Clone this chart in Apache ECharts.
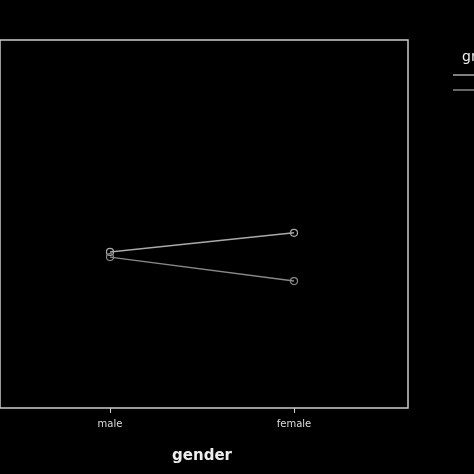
<!DOCTYPE html>
<html><head><meta charset="utf-8">
<script src="https://cdn.jsdelivr.net/npm/echarts@6/dist/echarts.min.js"></script>
<style>html,body{margin:0;background:#000}#c{width:474px;height:474px}</style>
</head><body><div id="c"></div>
<script>
var categories = ['male', 'female'];
var group1 = [0.424, 0.476];
var group2 = [0.410, 0.345];

var chart = echarts.init(document.getElementById('c'));
chart.setOption({
  backgroundColor: '#000',
  animation: false,
  grid: [
    {left: 0, top: 40, width: 408, height: 368, show: true, borderColor: '#ccc', borderWidth: 1.5},
    {left: 18, top: 40, width: 368, height: 368}
  ],
  xAxis: [
    {gridIndex: 0, type: 'value', show: false},
    {gridIndex: 1, type: 'category', data: categories, name: 'gender', nameLocation: 'middle', nameGap: 41,
     nameTextStyle: {color: '#eee', fontSize: 15, fontWeight: 'bold', fontFamily: 'DejaVu Sans'},
     axisLine: {show: false}, axisTick: {show: true, alignWithLabel: true, length: 5, lineStyle: {color: '#ccc'}},
     axisLabel: {color: '#ddd', fontSize: 10, fontFamily: 'DejaVu Sans', margin: 11}, splitLine: {show: false}}
  ],
  yAxis: [
    {gridIndex: 0, type: 'value', show: false},
    {gridIndex: 1, type: 'value', min: 0, max: 1, show: false}
  ],
  series: [
    {type: 'line', xAxisIndex: 1, yAxisIndex: 1, data: group1, symbol: 'circle', symbolSize: 7,
     itemStyle: {color: 'transparent', borderColor: '#aaa', borderWidth: 1.2}, lineStyle: {color: '#aaa', width: 1.5}},
    {type: 'line', xAxisIndex: 1, yAxisIndex: 1, data: group2, symbol: 'circle', symbolSize: 7,
     itemStyle: {color: 'transparent', borderColor: '#888', borderWidth: 1.2}, lineStyle: {color: '#888', width: 1.5}}
  ],
  graphic: [
    {type: 'text', left: 462, top: 50, style: {text: 'group', fill: '#eee', fontSize: 14, fontFamily: 'DejaVu Sans'}},
    {type: 'line', shape: {x1: 453, y1: 75, x2: 480, y2: 75}, style: {stroke: '#aaa', lineWidth: 1.5}},
    {type: 'line', shape: {x1: 453, y1: 90, x2: 480, y2: 90}, style: {stroke: '#888', lineWidth: 1.5}}
  ]
});
</script></body></html>
